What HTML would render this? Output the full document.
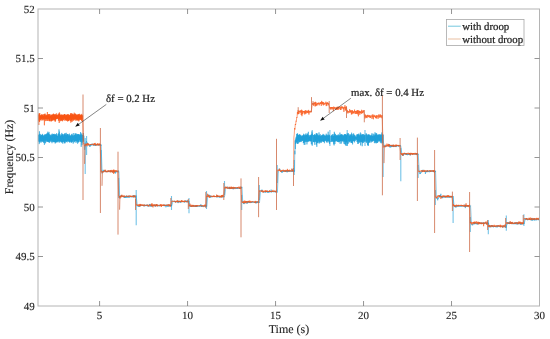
<!DOCTYPE html><html><head><meta charset="utf-8"><style>html,body{margin:0;padding:0;background:#fff;overflow:hidden}svg{display:block}text{font-family:"Liberation Serif","Times New Roman",serif;text-rendering:geometricPrecision}</style></head><body><svg width="550" height="339" viewBox="0 0 550 339"><rect width="550" height="339" fill="#fff"/><defs><clipPath id="c"><rect x="38.0" y="9.0" width="501.5" height="297.0"/></clipPath></defs><g clip-path="url(#c)" fill="none" stroke-linejoin="round"><polyline points="38.00,140.2 38.20,134.9 38.40,141.1 38.60,134.9 38.80,141.9 39.00,134.5 39.20,144.1 39.40,131.3 39.60,141.7 39.80,134.2 40.00,142.9 40.20,133.9 40.40,141.8 40.60,135.6 40.80,140.9 41.00,135.5 41.20,140.8 41.40,135.2 41.60,142.4 41.80,134.8 42.00,141.2 42.20,134.7 42.40,141.3 42.60,133.9 42.80,141.7 43.00,135.1 43.20,141.9 43.40,135.8 43.60,142.8 43.80,135.8 44.00,140.9 44.20,135.5 44.40,144.8 44.60,134.4 44.80,142.8 45.00,135.0 45.20,140.6 45.40,135.1 45.60,143.3 45.80,134.0 46.00,141.3 46.20,134.0 46.40,140.4 46.60,134.8 46.80,141.6 47.00,133.2 47.20,141.9 47.40,133.7 47.60,141.3 47.80,131.7 48.00,141.9 48.20,133.0 48.40,142.0 48.60,133.5 48.80,142.4 49.00,131.9 49.20,141.5 49.40,134.4 49.60,142.8 49.80,134.7 50.00,141.6 50.20,135.3 50.40,140.6 50.60,135.7 50.80,141.6 51.00,134.6 51.20,140.2 51.40,135.7 51.60,141.7 51.80,134.5 52.00,143.2 52.20,133.6 52.40,141.7 52.60,134.6 52.80,141.4 53.00,135.3 53.20,141.5 53.40,134.0 53.60,142.2 53.80,134.2 54.00,141.8 54.20,133.8 54.40,142.2 54.60,135.0 54.80,142.0 55.00,134.3 55.20,143.5 55.40,134.2 55.60,142.7 55.80,135.1 56.00,141.9 56.20,134.8 56.40,142.3 56.60,133.2 56.80,142.3 57.00,134.7 57.20,141.1 57.40,136.0 57.60,142.2 57.80,135.9 58.00,141.5 58.20,133.9 58.40,140.8 58.60,133.4 58.80,141.7 59.00,129.4 59.20,142.7 59.40,131.6 59.60,141.0 59.80,134.3 60.00,142.1 60.20,135.7 60.40,141.4 60.60,135.8 60.80,140.9 61.00,134.3 61.20,142.2 61.40,135.2 61.60,142.3 61.80,132.9 62.00,142.4 62.20,134.8 62.40,142.2 62.60,134.2 62.80,143.7 63.00,134.0 63.20,141.8 63.40,135.9 63.60,141.4 63.80,135.0 64.00,141.8 64.20,134.1 64.40,142.8 64.60,133.4 64.80,143.5 65.00,134.8 65.20,142.7 65.40,133.4 65.60,141.0 65.80,135.4 66.00,141.9 66.20,132.8 66.40,141.9 66.60,135.1 66.80,141.0 67.00,133.9 67.20,142.4 67.40,134.2 67.60,140.6 67.80,134.1 68.00,141.5 68.20,134.3 68.40,140.6 68.60,135.7 68.80,141.6 69.00,135.3 69.20,142.0 69.40,133.6 69.60,142.6 69.80,135.5 70.00,141.7 70.20,135.7 70.40,140.6 70.60,135.8 70.80,142.1 71.00,135.3 71.20,142.5 71.40,134.2 71.60,142.6 71.80,135.4 72.00,141.8 72.20,133.7 72.40,141.8 72.60,135.4 72.80,140.4 73.00,135.3 73.20,143.6 73.40,136.0 73.60,140.2 73.80,133.0 74.00,142.4 74.20,135.1 74.40,141.7 74.60,135.2 74.80,141.3 75.00,134.4 75.20,141.3 75.40,133.2 75.60,140.7 75.80,134.1 76.00,142.9 76.20,135.6 76.40,141.0 76.60,133.6 76.80,141.9 77.00,134.8 77.20,140.8 77.40,134.2 77.60,143.7 77.80,134.2 78.00,142.0 78.20,134.3 78.40,142.5 78.60,134.0 78.80,142.1 79.00,135.3 79.20,140.5 79.40,134.5 79.60,140.0 79.80,134.7 80.00,141.6 80.20,135.3 80.40,141.9 80.60,132.1 80.80,141.2 81.00,133.7 81.20,146.8 81.40,135.3 81.60,142.3 81.80,133.5 82.00,144.8 82.20,134.9 82.40,142.5 82.60,135.2 82.80,140.6 83.00,135.1 83.20,141.4 83.40,133.0 83.60,141.6 83.80,135.7 84.70,149.8 85.05,146.8 85.40,145.8 85.75,142.7 86.10,142.5 86.45,141.2 86.80,142.4 87.15,142.2 87.50,143.6 87.85,143.1 88.20,144.9 88.55,144.2 88.90,145.9 89.25,145.3 89.60,146.7 89.95,145.1 90.30,146.5 90.65,144.1 91.00,145.8 91.35,144.4 91.70,145.1 92.05,143.5 92.40,145.2 92.75,144.4 93.10,145.3 93.45,144.0 93.80,145.4 94.15,144.3 94.50,145.7 94.85,144.4 95.20,145.6 95.55,144.0 95.90,145.9 96.25,143.9 96.60,145.0 96.95,144.7 97.30,145.1 97.65,144.1 98.00,145.2 98.35,144.4 98.70,145.7 99.05,144.3 99.40,145.1 99.75,144.2 100.10,146.0 100.45,143.9 100.80,146.0 101.15,144.6 102.10,173.5 102.45,171.2 102.80,172.5 103.15,169.8 103.50,171.8 103.85,170.5 104.20,171.7 104.55,170.2 104.90,171.5 105.25,170.8 105.60,171.9 105.95,171.1 106.30,172.3 106.65,171.1 107.00,172.0 107.35,171.3 107.70,171.7 108.05,170.7 108.40,172.1 108.75,170.6 109.10,171.8 109.45,171.0 109.80,171.9 110.15,171.2 110.50,172.0 110.85,170.3 111.20,172.1 111.55,170.9 111.90,172.0 112.25,171.3 112.60,172.4 112.95,171.1 113.30,171.8 113.65,170.1 114.00,172.8 114.35,170.9 114.70,172.1 115.05,171.2 115.40,173.5 115.75,171.1 116.10,172.4 116.45,170.7 116.80,171.6 117.15,171.4 117.50,172.0 117.85,171.4 118.20,172.5 118.55,170.5 118.90,172.2 119.70,198.4 120.05,196.1 120.40,197.0 120.75,195.6 121.10,196.8 121.45,195.0 121.80,196.4 122.15,195.7 122.50,197.0 122.85,196.3 123.20,196.9 123.55,195.9 123.90,197.5 124.25,196.0 124.60,197.9 124.95,196.3 125.30,197.9 125.65,196.2 126.00,197.8 126.35,195.7 126.70,197.5 127.05,195.8 127.40,197.5 127.75,196.1 128.10,197.5 128.45,196.3 128.80,197.4 129.15,195.5 129.50,197.5 129.85,196.4 130.20,197.2 130.55,196.2 130.90,196.9 131.25,196.3 131.60,197.3 131.95,196.3 132.30,197.3 132.65,195.8 133.00,196.8 133.35,195.1 133.70,197.2 134.05,195.5 134.40,197.0 134.75,195.7 135.10,197.9 135.45,196.3 135.80,196.8 136.15,195.6 137.20,205.0 137.55,204.9 137.90,206.6 138.25,206.1 138.60,206.6 138.95,205.9 139.30,206.8 139.65,205.5 140.00,206.3 140.35,204.8 140.70,206.1 141.05,204.6 141.40,205.7 141.75,205.1 142.10,205.7 142.45,205.5 142.80,206.0 143.15,205.0 143.50,206.1 143.85,204.8 144.20,206.3 144.55,204.8 144.90,206.2 145.25,205.2 145.60,205.7 145.95,204.7 146.30,206.1 146.65,205.4 147.00,205.8 147.35,204.5 147.70,206.6 148.05,205.1 148.40,205.8 148.75,205.1 149.10,206.5 149.45,204.2 149.80,205.8 150.15,203.9 150.50,206.6 150.85,204.7 151.20,206.2 151.55,204.8 151.90,206.9 152.25,205.4 152.60,205.9 152.95,204.8 153.30,205.8 153.65,205.4 154.00,206.2 154.35,204.7 154.70,206.2 155.05,205.0 155.40,206.6 155.75,204.7 156.10,205.8 156.45,204.3 156.80,205.8 157.15,204.8 157.50,206.2 157.85,204.9 158.20,206.4 158.55,205.5 158.90,205.8 159.25,205.4 159.60,206.3 159.95,204.8 160.30,206.0 160.65,205.0 161.00,205.8 161.35,205.3 161.70,205.9 162.05,205.2 162.40,205.7 162.75,205.4 163.10,205.9 163.45,204.9 163.80,206.1 164.15,204.6 164.50,206.2 164.85,205.3 165.20,205.8 165.55,204.7 165.90,207.3 166.25,205.4 166.60,206.2 166.95,204.6 167.30,206.6 167.65,205.4 168.00,206.5 168.35,204.5 168.70,206.5 169.05,205.4 169.40,206.1 169.75,205.2 170.10,206.0 170.45,204.8 170.80,206.2 171.15,204.9 171.50,206.2 172.50,202.9 172.85,201.3 173.20,201.5 173.55,200.8 173.90,201.4 174.25,201.0 174.60,202.0 174.95,200.9 175.30,202.5 175.65,201.3 176.00,202.2 176.35,201.3 176.70,202.0 177.05,201.5 177.40,202.4 177.75,201.2 178.10,203.1 178.45,200.6 178.80,202.3 179.15,201.0 179.50,202.1 179.85,200.9 180.20,202.6 180.55,201.5 180.90,202.7 181.25,201.2 181.60,201.9 181.95,200.8 182.30,201.9 182.65,201.0 183.00,201.8 183.35,201.5 183.70,202.2 184.05,201.3 184.40,202.6 184.75,201.5 185.10,201.8 185.45,200.5 185.80,201.9 186.15,200.8 186.50,201.8 186.85,200.5 187.20,202.4 187.55,200.5 187.90,202.4 188.25,200.9 188.60,202.2 188.95,201.0 189.30,202.4 190.00,206.3 190.35,205.4 190.70,206.9 191.05,206.0 191.40,206.8 191.75,206.0 192.10,206.9 192.45,205.6 192.80,206.2 193.15,205.1 193.50,206.7 193.85,205.3 194.20,206.3 194.55,205.5 194.90,206.8 195.25,205.7 195.60,207.0 195.95,205.4 196.30,207.0 196.65,205.5 197.00,206.8 197.35,205.3 197.70,206.7 198.05,206.0 198.40,206.2 198.75,205.7 199.10,206.6 199.45,205.5 199.80,206.6 200.15,205.6 200.50,206.3 200.85,204.2 201.20,206.7 201.55,205.1 201.90,207.0 202.25,205.3 202.60,206.6 202.95,206.0 203.30,206.4 203.65,205.7 204.00,206.3 204.35,206.0 204.70,206.8 205.05,205.4 205.40,206.3 205.75,206.0 206.10,206.8 206.45,205.5 206.80,206.3 207.50,197.9 207.85,196.4 208.20,196.6 208.55,194.7 208.90,195.9 209.25,194.8 209.60,196.4 209.95,195.8 210.30,197.6 210.65,195.5 211.00,197.5 211.35,196.2 211.70,197.0 212.05,196.4 212.40,197.1 212.75,196.1 213.10,196.8 213.45,195.9 213.80,196.6 214.15,196.0 214.50,197.0 214.85,196.1 215.20,197.0 215.55,196.4 215.90,196.9 216.25,196.4 216.60,197.3 216.95,195.4 217.30,197.1 217.65,195.5 218.00,197.4 218.35,196.2 218.70,196.8 219.05,196.3 219.40,197.5 219.75,196.0 220.10,197.6 220.45,196.2 220.80,196.8 221.15,195.9 221.50,196.8 221.85,195.9 222.20,197.3 222.55,195.4 222.90,197.5 223.25,196.5 223.60,196.7 223.95,196.5 224.30,197.2 224.65,196.0 225.50,189.6 225.85,187.4 226.20,188.0 226.55,187.1 226.90,187.9 227.25,186.7 227.60,188.3 227.95,187.8 228.30,188.6 228.65,187.7 229.00,189.0 229.35,186.9 229.70,189.1 230.05,187.6 230.40,188.9 230.75,187.7 231.10,188.5 231.45,187.1 231.80,188.5 232.15,187.4 232.50,188.8 232.85,187.8 233.20,189.4 233.55,187.4 233.90,188.7 234.25,187.8 234.60,188.5 234.95,187.4 235.30,188.4 235.65,187.3 236.00,188.9 236.35,187.9 236.70,188.8 237.05,187.3 237.40,188.8 237.75,187.4 238.10,188.7 238.45,187.9 238.80,188.4 239.15,187.5 239.50,188.8 239.85,187.8 240.20,188.6 240.55,187.9 240.90,188.8 241.25,186.7 241.60,188.2 241.95,186.9 242.70,201.6 243.05,201.0 243.40,203.6 243.75,202.6 244.10,204.1 244.45,202.7 244.80,203.3 245.15,202.4 245.50,203.0 245.85,201.5 246.20,202.0 246.55,201.4 246.90,203.8 247.25,201.1 247.60,203.3 247.95,201.9 248.30,202.7 248.65,201.2 249.00,202.7 249.35,202.0 249.70,203.0 250.05,202.0 250.40,202.6 250.75,201.9 251.10,202.7 251.45,201.8 251.80,203.0 252.15,201.9 252.50,202.3 252.85,201.3 253.20,202.4 253.55,201.8 253.90,202.6 254.25,201.8 254.60,202.6 254.95,201.8 255.30,203.0 255.65,202.0 256.00,203.2 256.35,201.9 256.70,203.2 257.05,201.3 257.40,202.9 257.75,201.4 258.10,202.4 258.45,201.2 258.80,202.9 259.15,201.9 259.50,202.5 260.30,193.1 260.65,191.5 261.00,191.6 261.35,189.9 261.70,191.2 262.05,189.7 262.40,191.2 262.75,191.2 263.10,192.6 263.45,191.5 263.80,192.1 264.15,191.7 264.50,192.2 264.85,191.3 265.20,192.9 265.55,191.1 265.90,191.9 266.25,191.0 266.60,191.9 266.95,191.1 267.30,192.6 267.65,190.6 268.00,192.8 268.35,191.4 268.70,192.5 269.05,191.2 269.40,192.3 269.75,191.0 270.10,192.1 270.45,191.3 270.80,192.2 271.15,189.6 271.50,192.3 271.85,191.2 272.20,192.1 272.55,191.4 272.90,191.8 273.25,191.1 273.60,192.2 273.95,191.0 274.30,191.9 274.65,191.4 275.00,192.3 275.35,191.2 275.70,192.3 276.05,190.8 276.40,191.7 276.75,190.6 277.10,192.6 277.45,191.3 278.20,173.9 278.55,171.0 278.90,170.6 279.25,168.5 279.60,169.6 279.95,169.2 280.30,170.2 280.65,170.4 281.00,171.9 281.35,170.8 281.70,172.7 282.05,171.1 282.40,172.5 282.75,170.7 283.10,171.5 283.45,170.5 283.80,171.7 284.15,170.4 284.50,171.4 284.85,170.7 285.20,171.9 285.55,170.6 285.90,171.6 286.25,170.5 286.60,172.1 286.95,170.1 287.30,172.3 287.65,170.8 288.00,171.8 288.35,170.6 288.70,171.6 289.05,170.3 289.40,172.0 289.75,171.0 290.10,171.3 290.45,170.4 290.80,171.5 291.15,171.0 291.50,171.7 291.85,170.6 292.20,171.5 292.55,168.8 292.90,172.0 293.25,170.5 293.60,171.9 293.95,170.2 294.30,171.4 294.55,171.7 294.75,150.7 294.95,154.3 295.15,140.4 295.35,149.1 295.55,139.5 295.75,144.0 295.95,137.6 296.15,142.6 296.35,136.6 296.55,142.5 296.75,134.0 296.95,141.7 297.15,133.7 297.35,144.0 297.55,133.4 297.75,143.5 297.95,135.4 298.15,143.6 298.35,134.8 298.55,141.2 298.75,135.1 298.95,142.7 299.15,134.7 299.35,141.9 299.55,134.3 299.75,141.8 299.95,134.6 300.15,141.8 300.35,135.6 300.55,140.8 300.75,134.9 300.95,142.1 301.15,136.3 301.35,141.5 301.55,136.5 301.75,140.5 301.95,135.5 302.15,140.4 302.35,136.0 302.55,141.0 302.75,135.6 302.95,140.5 303.15,135.0 303.35,143.1 303.55,133.8 303.75,142.9 303.95,135.1 304.15,144.8 304.35,135.9 304.55,141.9 304.75,134.6 304.95,144.8 305.15,134.5 305.35,142.1 305.55,135.6 305.75,141.4 305.95,133.4 306.15,140.4 306.35,135.0 306.55,141.9 306.75,135.2 306.95,144.4 307.15,133.8 307.35,141.2 307.55,133.6 307.75,142.1 307.95,135.6 308.15,141.8 308.35,131.8 308.55,141.1 308.75,135.0 308.95,140.9 309.15,136.6 309.35,140.6 309.55,136.4 309.75,141.4 309.95,135.0 310.15,141.0 310.35,134.9 310.55,141.2 310.75,136.0 310.95,141.4 311.15,134.8 311.35,144.2 311.55,134.3 311.75,140.9 311.95,131.5 312.15,144.7 312.35,133.5 313.20,141.8 313.40,135.1 313.60,142.1 313.80,135.1 314.00,142.1 314.20,134.7 314.40,142.2 314.60,134.2 314.80,144.8 315.00,135.8 315.20,140.8 315.40,134.7 315.60,141.8 315.80,135.3 316.00,141.7 316.20,133.3 316.40,144.6 316.60,133.6 316.80,146.8 317.00,133.2 317.20,142.3 317.40,134.3 317.60,143.1 317.80,135.2 318.00,143.1 318.20,135.6 318.40,140.9 318.60,135.6 318.80,141.8 319.00,132.4 319.20,143.5 319.40,135.4 319.60,141.9 319.80,135.4 320.00,143.1 320.20,134.1 320.40,141.9 320.60,136.2 320.80,140.7 321.00,135.9 321.20,143.0 321.40,135.2 321.60,141.5 321.80,136.1 322.00,141.7 322.20,135.0 322.40,141.2 322.60,135.1 322.80,141.2 323.00,133.9 323.20,141.4 323.40,135.0 323.60,142.0 323.80,134.3 324.00,141.4 324.20,135.6 324.40,143.2 324.60,135.7 324.80,140.6 325.00,135.3 325.20,141.2 325.40,135.8 325.60,140.4 325.80,135.9 326.00,140.6 326.20,133.7 326.40,141.6 326.60,135.3 326.80,142.4 327.00,134.6 327.20,142.5 327.40,135.4 327.60,141.0 327.80,135.7 328.00,141.0 328.20,131.7 328.40,141.7 328.60,135.6 328.80,141.0 329.00,134.7 329.20,142.9 329.40,134.9 329.60,144.1 329.80,135.8 330.00,142.1 330.90,140.9 331.10,135.8 331.30,140.6 331.50,135.6 331.70,142.0 331.90,135.0 332.10,141.7 332.30,134.4 332.50,141.3 332.70,136.1 332.90,140.4 333.10,134.0 333.30,142.1 333.50,135.7 333.70,144.2 333.90,135.8 334.10,145.4 334.30,131.8 334.50,141.7 334.70,133.3 334.90,144.0 335.10,135.4 335.30,141.6 335.50,134.0 335.70,140.6 335.90,135.8 336.10,140.9 336.30,135.3 336.50,140.8 336.70,135.6 336.90,141.6 337.10,134.9 337.30,140.5 337.50,135.7 337.70,142.0 337.90,135.7 338.10,141.9 338.30,134.3 338.50,142.2 338.70,135.2 338.90,140.7 339.10,135.9 339.30,142.1 339.50,135.4 339.70,141.5 339.90,132.6 340.10,143.8 340.30,135.0 340.50,141.1 340.70,134.6 340.90,140.8 341.10,134.3 341.30,143.6 341.50,134.5 341.70,141.1 341.90,134.6 342.10,141.6 342.30,134.6 342.50,140.7 342.70,135.0 342.90,140.9 343.10,136.2 343.30,142.3 343.50,135.7 343.70,140.6 343.90,134.9 344.10,144.0 344.30,134.4 344.50,141.6 344.70,134.3 344.90,144.2 345.10,134.0 345.30,144.5 345.50,134.5 345.70,145.6 345.90,134.6 346.10,141.9 346.30,135.3 346.50,142.5 346.70,135.1 346.90,145.9 347.10,133.5 347.30,144.3 347.50,133.6 348.20,143.8 348.40,133.1 348.60,141.2 348.80,134.3 349.00,142.6 349.20,135.9 349.40,141.8 349.60,135.5 349.80,141.4 350.00,134.2 350.20,140.8 350.40,135.0 350.60,141.4 350.80,135.7 351.00,142.9 351.20,134.0 351.40,142.4 351.60,132.7 351.80,143.0 352.00,135.1 352.20,143.1 352.40,135.8 352.60,144.4 352.80,133.9 353.00,140.8 353.20,136.1 353.40,141.1 353.60,133.4 353.80,141.4 354.00,134.5 354.20,140.7 354.40,135.0 354.60,142.4 354.80,135.8 355.00,141.0 355.20,135.5 355.40,140.4 355.60,136.7 355.80,139.0 356.00,137.0 356.20,139.3 356.40,136.6 356.60,140.0 356.80,134.7 357.00,141.8 357.20,134.2 357.40,141.7 357.60,134.7 357.80,143.8 358.00,134.4 358.20,143.9 358.40,134.5 358.60,141.5 358.80,133.6 359.00,142.9 359.20,135.2 359.40,142.4 359.60,135.7 359.80,140.8 360.00,134.4 360.20,141.8 360.40,132.5 360.60,145.4 360.80,135.1 361.00,142.0 361.20,133.7 361.40,142.3 361.60,135.2 361.80,141.8 362.00,135.2 362.20,146.2 362.40,134.5 362.60,143.1 362.80,134.2 363.00,142.0 363.20,134.1 363.40,142.9 363.60,134.7 363.80,141.2 364.00,136.0 364.20,140.2 364.40,134.9 364.60,141.7 364.80,135.2 365.00,141.7 365.20,134.6 366.00,141.6 366.20,133.2 366.40,143.1 366.60,134.2 366.80,141.8 367.00,134.8 367.20,140.6 367.40,135.8 367.60,145.4 367.80,134.7 368.00,144.9 368.20,134.5 368.40,145.9 368.60,134.7 368.80,143.0 369.00,134.4 369.20,142.1 369.40,135.2 369.60,142.4 369.80,134.8 370.00,142.4 370.20,136.0 370.40,140.9 370.60,135.6 370.80,140.1 371.00,135.1 371.20,142.5 371.40,135.6 371.60,141.2 371.80,133.4 372.00,141.6 372.20,135.8 372.40,141.3 372.60,135.8 372.80,141.4 373.00,133.6 373.20,140.4 373.40,136.2 373.60,140.9 373.80,134.5 374.00,140.4 374.20,134.6 374.40,143.1 374.60,135.8 374.80,141.2 375.00,132.3 375.20,143.2 375.40,135.1 375.60,142.4 375.80,133.3 376.00,141.1 376.20,133.8 376.40,143.3 376.60,133.2 376.80,142.4 377.00,135.4 377.20,142.7 377.40,135.2 377.60,142.9 377.80,134.5 378.00,140.6 378.20,134.6 378.40,141.7 378.60,135.1 378.80,140.4 379.00,134.4 379.20,140.5 379.40,135.3 379.60,141.2 379.80,134.2 380.00,141.5 380.20,134.8 380.40,142.7 380.60,134.7 380.80,140.6 381.00,135.4 381.20,143.3 381.40,134.7 381.60,141.6 381.80,132.5 382.00,143.2 382.20,134.5 382.40,143.0 382.60,134.3 382.80,142.6 383.00,134.5 383.20,141.1 384.10,145.6 384.45,145.0 384.80,146.8 385.15,146.3 385.50,147.1 385.85,146.3 386.20,146.8 386.55,145.5 386.90,146.3 387.25,145.5 387.60,146.0 387.95,145.4 388.30,146.0 388.65,145.4 389.00,146.3 389.35,144.0 389.70,147.3 390.05,145.5 390.40,147.4 390.75,145.6 391.10,147.2 391.45,145.1 391.80,147.0 392.15,145.2 392.50,146.7 392.85,144.8 393.20,146.8 393.55,145.0 393.90,147.1 394.25,145.8 394.60,146.5 394.95,145.7 395.30,146.8 395.65,145.8 396.00,147.1 396.35,145.1 396.70,146.4 397.05,145.3 397.40,146.1 397.75,145.2 398.10,146.5 398.45,145.0 398.80,146.4 399.15,145.6 399.50,146.1 399.85,145.2 400.20,146.5 400.55,145.3 400.90,146.9 401.80,153.7 402.15,153.4 402.50,155.4 402.85,154.0 403.20,155.9 403.55,154.1 403.90,154.8 404.25,153.5 404.60,154.2 404.95,153.0 405.30,154.4 405.65,153.1 406.00,154.9 406.35,153.1 406.70,154.6 407.05,153.9 407.40,155.2 407.75,153.9 408.10,155.0 408.45,154.0 408.80,154.8 409.15,153.3 409.50,154.4 409.85,153.0 410.20,155.5 410.55,153.6 410.90,154.2 411.25,153.3 411.60,154.3 411.95,153.7 412.30,154.5 412.65,153.7 413.00,154.4 413.35,153.6 413.70,154.3 414.05,153.2 414.40,154.3 414.75,153.9 415.10,154.3 415.45,153.5 415.80,154.6 416.15,153.9 416.50,155.0 416.85,153.2 417.20,155.1 417.55,153.1 417.90,154.6 418.25,153.9 419.10,170.3 419.45,170.5 419.80,174.1 420.15,172.8 420.50,173.8 420.85,171.8 421.20,172.6 421.55,171.1 421.90,171.7 422.25,170.2 422.60,171.8 422.95,169.8 423.30,171.0 423.65,170.7 424.00,172.0 424.35,171.0 424.70,171.6 425.05,170.6 425.40,173.9 425.75,171.1 426.10,172.0 426.45,171.1 426.80,172.3 427.15,170.1 427.50,171.9 427.85,170.5 428.20,172.1 428.55,170.9 428.90,171.5 429.25,170.8 429.60,172.2 429.95,170.7 430.30,171.6 430.65,170.8 431.00,171.7 431.35,170.4 431.70,171.8 432.05,171.2 432.40,171.4 432.75,170.5 433.10,171.8 433.45,170.6 433.80,172.2 434.15,170.6 434.50,172.6 434.85,170.6 435.20,171.8 435.55,170.9 436.30,194.8 436.65,195.4 437.00,198.8 437.35,198.1 437.70,200.3 438.05,198.2 438.40,198.7 438.75,196.9 439.10,197.3 439.45,195.1 439.80,197.0 440.15,195.2 440.50,196.5 440.85,193.8 441.20,197.9 441.55,196.0 441.90,197.6 442.25,196.6 442.60,198.2 442.95,196.0 443.30,197.5 443.65,196.6 444.00,197.2 444.35,195.8 444.70,197.5 445.05,195.8 445.40,197.5 445.75,196.2 446.10,197.3 446.45,195.8 446.80,197.0 447.15,196.2 447.50,197.7 447.85,196.5 448.20,197.5 448.55,196.7 448.90,197.2 449.25,195.9 449.60,197.7 449.95,196.1 450.30,197.5 450.65,196.2 451.00,197.6 451.35,196.0 451.70,197.0 452.05,196.0 452.40,197.3 452.75,196.1 453.10,197.1 454.10,205.7 454.45,205.4 454.80,207.1 455.15,205.9 455.50,207.3 455.85,206.0 456.20,207.4 456.55,205.5 456.90,206.6 457.25,205.3 457.60,206.5 457.95,205.1 458.30,206.2 458.65,205.1 459.00,206.9 459.35,205.7 459.70,206.3 460.05,205.8 460.40,206.7 460.75,205.6 461.10,206.3 461.45,205.5 461.80,206.7 462.15,205.3 462.50,206.2 462.85,205.5 463.20,206.3 463.55,205.8 463.90,206.4 464.25,205.9 464.60,206.9 464.95,204.5 465.30,208.1 465.65,204.9 466.00,206.8 466.35,205.8 466.70,206.6 467.05,205.5 467.40,206.6 467.75,205.3 468.10,206.5 468.45,205.4 468.80,206.2 469.15,205.7 469.50,206.7 469.85,205.3 470.20,206.2 470.55,205.8 471.30,222.0 471.65,222.0 472.00,225.2 472.35,224.3 472.70,225.3 473.05,224.4 473.40,224.3 473.75,222.6 474.10,223.6 474.45,222.3 474.80,224.4 475.15,222.5 475.50,223.9 475.85,222.6 476.20,223.6 476.55,223.2 476.90,224.5 477.25,222.7 477.60,224.5 477.95,223.1 478.30,223.9 478.65,222.5 479.00,223.7 479.35,222.2 479.70,223.8 480.05,222.5 480.40,223.8 480.75,223.2 481.10,224.1 481.45,222.6 481.80,224.1 482.15,222.5 482.50,223.5 482.85,223.2 483.20,224.0 483.55,222.3 483.90,224.2 484.25,222.8 484.60,223.7 484.95,222.8 485.30,223.4 485.65,222.9 486.00,223.6 486.35,222.7 486.70,224.3 487.05,222.3 487.40,223.5 487.75,222.4 488.10,224.5 488.45,222.9 489.30,226.4 489.65,225.4 490.00,227.4 490.35,226.0 490.70,227.1 491.05,225.1 491.40,226.6 491.75,225.5 492.10,226.9 492.45,225.1 492.80,227.1 493.15,226.0 493.50,227.3 493.85,225.9 494.20,227.0 494.55,226.1 494.90,227.0 495.25,226.0 495.60,227.2 495.95,225.9 496.30,226.7 496.65,225.8 497.00,227.6 497.35,225.4 497.70,226.9 498.05,225.4 498.40,226.4 498.75,225.8 499.10,227.0 499.45,226.1 499.80,226.9 500.15,226.0 500.50,226.7 500.85,226.1 501.20,226.7 501.55,226.2 501.90,227.0 502.25,226.0 502.60,227.6 502.95,225.4 503.30,226.6 503.65,225.9 504.00,226.6 504.35,226.2 504.70,227.4 505.05,226.0 505.40,227.0 505.75,225.5 506.10,227.8 506.45,225.9 507.30,224.1 507.65,222.3 508.00,223.8 508.35,222.2 508.70,223.9 509.05,222.3 509.40,224.1 509.75,222.1 510.10,223.8 510.45,222.2 510.80,223.7 511.15,222.5 511.50,223.9 511.85,222.3 512.20,224.2 512.55,222.4 512.90,223.7 513.25,223.1 513.60,224.2 513.95,223.1 514.30,224.2 514.65,222.3 515.00,224.0 515.35,222.7 515.70,224.2 516.05,223.0 516.40,224.4 516.75,222.2 517.10,223.8 517.45,222.3 517.80,224.6 518.15,223.1 518.50,224.0 518.85,222.6 519.20,223.6 519.55,222.3 519.90,224.2 520.25,223.0 520.60,224.6 520.95,223.0 521.30,224.7 521.65,222.7 522.00,223.6 522.35,223.1 522.70,224.1 523.05,223.2 523.40,224.4 523.75,222.8 524.10,224.0 524.90,220.7 525.25,218.9 525.60,219.9 525.95,218.3 526.30,219.2 526.65,218.1 527.00,219.6 527.35,218.6 527.70,220.3 528.05,219.1 528.40,219.8 528.75,219.2 529.10,219.7 529.45,218.2 529.80,219.7 530.15,219.2 530.50,219.9 530.85,218.9 531.20,220.5 531.55,218.1 531.90,220.3 532.25,218.1 532.60,220.6 532.95,219.0 533.30,220.1 533.65,218.5 534.00,220.2 534.35,218.5 534.70,220.5 535.05,218.7 535.40,219.5 535.75,218.8 536.10,220.5 536.45,218.6 536.80,219.5 537.15,218.5 537.50,219.7 537.85,219.1 538.20,220.3 538.55,218.6 538.90,219.9 539.25,218.6" stroke="#1A9DD9" stroke-width="0.55"/><path d="M85.20 138V174M101.10 150V172M118.70 178V198M136.20 190V225.2M171.50 196V210M189.00 198V213.2M206.50 191V209M224.50 181V195M241.70 195V210M259.30 185V200M277.20 165V183M294.20 160V175M312.20 130V146M329.90 130V146M347.20 130V146M365.00 130V146M383.10 135V177M400.80 148V181.2M418.10 165V178M435.30 190V205M453.10 196V223M470.30 217V232M488.30 220V234.2M506.30 215.5V230.7M523.90 214.3V226M86.6 136V155" stroke="#1A9DD9" stroke-width="1.1" stroke-opacity="0.62"/><polyline points="38.00,119.5 38.20,115.1 38.40,120.7 38.60,114.4 38.80,125.0 39.00,113.1 39.20,121.6 39.40,113.8 39.60,121.8 39.80,113.2 40.00,118.9 40.20,115.4 40.40,119.9 40.60,115.5 40.80,120.5 41.00,115.2 41.20,119.4 41.40,115.1 41.60,118.9 41.80,114.1 42.00,120.5 42.20,114.5 42.40,118.6 42.60,115.0 42.80,120.2 43.00,115.6 43.20,119.5 43.40,115.8 43.60,118.9 43.80,114.1 44.00,120.4 44.20,114.2 44.40,125.3 44.60,114.6 44.80,119.0 45.00,113.5 45.20,118.9 45.40,115.6 45.60,121.1 45.80,114.4 46.00,119.2 46.20,115.7 46.40,119.4 46.60,115.2 46.80,121.0 47.00,114.8 47.20,118.9 47.40,112.0 47.60,120.9 47.80,115.3 48.00,119.2 48.20,114.4 48.40,119.1 48.60,114.1 48.80,120.7 49.00,115.6 49.20,121.1 49.40,114.0 49.60,121.2 49.80,114.4 50.00,120.4 50.20,115.6 50.40,118.5 50.60,115.7 50.80,121.2 51.00,114.4 51.20,121.4 51.40,114.9 51.60,121.1 51.80,115.5 52.00,119.3 52.20,115.0 52.40,120.6 52.60,114.3 52.80,120.4 53.00,114.7 53.20,120.4 53.40,113.6 53.60,119.9 53.80,114.0 54.00,118.7 54.20,115.0 54.40,120.2 54.60,114.4 54.80,120.6 55.00,114.7 55.20,121.9 55.40,113.9 55.60,120.9 55.80,115.4 56.00,119.1 56.20,115.1 56.40,119.2 56.60,113.4 56.80,118.6 57.00,115.1 57.20,118.6 57.40,114.6 57.60,118.6 57.80,115.6 58.00,118.9 58.20,115.0 58.40,120.8 58.60,113.5 58.80,119.8 59.00,114.1 59.20,123.0 59.40,112.4 59.60,119.2 59.80,113.7 60.00,121.4 60.20,115.2 60.40,120.8 60.60,115.2 60.80,119.5 61.00,114.5 61.20,120.4 61.40,114.6 61.60,120.3 61.80,115.3 62.00,121.0 62.20,115.2 62.40,121.3 62.60,114.6 62.80,119.5 63.00,115.4 63.20,120.0 63.40,115.0 63.60,120.3 63.80,114.8 64.00,118.6 64.20,114.0 64.40,118.7 64.60,114.1 64.80,120.7 65.00,114.1 65.20,120.1 65.40,115.6 65.60,119.6 65.80,115.0 66.00,120.4 66.20,114.9 66.40,120.8 66.60,115.2 66.80,119.9 67.00,114.4 67.20,120.1 67.40,114.6 67.60,121.5 67.80,114.3 68.00,120.9 68.20,115.1 68.40,121.0 68.60,114.2 68.80,121.1 69.00,115.5 69.20,119.8 69.40,115.1 69.60,120.2 69.80,115.3 70.00,118.9 70.20,114.5 70.40,121.0 70.60,113.2 70.80,122.7 71.00,114.3 71.20,120.2 71.40,113.2 71.60,121.7 71.80,114.9 72.00,119.7 72.20,113.5 72.40,121.5 72.60,114.3 72.80,119.4 73.00,114.2 73.20,119.3 73.40,114.9 73.60,120.7 73.80,114.5 74.00,120.3 74.20,112.7 74.40,119.7 74.60,113.8 74.80,119.0 75.00,115.4 75.20,119.3 75.40,113.6 75.60,120.6 75.80,114.0 76.00,118.7 76.20,114.4 76.40,119.8 76.60,115.0 76.80,120.6 77.00,115.1 77.20,120.3 77.40,115.0 77.60,120.3 77.80,114.1 78.00,119.6 78.20,114.8 78.40,120.4 78.60,114.4 78.80,121.4 79.00,114.2 79.20,120.4 79.40,113.8 79.60,119.2 79.80,115.6 80.00,119.7 80.20,115.6 80.40,120.0 80.60,114.8 80.80,118.8 81.00,114.5 81.20,119.9 81.40,115.0 81.60,121.1 81.80,113.9 82.00,119.3 82.20,115.4 82.40,121.4 82.60,115.4 82.80,121.0 83.70,144.1 84.05,143.5 84.40,145.8 84.75,145.2 85.10,146.3 85.45,144.3 85.80,145.3 86.15,143.3 86.50,145.3 86.85,144.0 87.20,146.3 87.55,143.1 87.90,145.1 88.25,143.4 88.60,145.1 88.95,143.9 89.30,145.4 89.65,144.5 90.00,145.2 90.35,144.3 90.70,145.0 91.05,144.1 91.40,144.9 91.75,144.1 92.10,144.8 92.45,143.8 92.80,144.6 93.15,144.2 93.50,145.5 93.85,143.4 94.20,144.9 94.55,143.2 94.90,145.0 95.25,142.9 95.60,145.7 95.95,144.3 96.30,144.6 96.65,144.0 97.00,145.8 97.35,143.4 97.70,145.1 98.05,143.3 98.40,145.4 98.75,144.0 99.10,144.8 99.45,143.4 99.80,145.4 100.15,144.0 101.10,171.4 101.45,170.6 101.80,172.7 102.15,171.5 102.50,172.4 102.85,171.8 103.20,172.4 103.55,171.0 103.90,172.2 104.25,170.7 104.60,171.3 104.95,169.7 105.30,171.7 105.65,169.9 106.00,172.3 106.35,171.0 106.70,171.7 107.05,170.7 107.40,172.3 107.75,170.6 108.10,171.8 108.45,170.6 108.80,171.7 109.15,170.1 109.50,171.4 109.85,170.7 110.20,172.5 110.55,170.2 110.90,172.1 111.25,169.9 111.60,171.6 111.95,170.4 112.30,172.8 112.65,170.2 113.00,172.2 113.35,169.7 113.70,174.0 114.05,169.7 114.40,172.6 114.75,170.2 115.10,171.7 115.45,170.3 115.80,171.7 116.15,170.3 116.50,171.4 116.85,170.6 117.20,172.1 117.55,170.6 117.90,171.9 118.70,195.8 119.05,195.6 119.40,197.3 119.75,196.1 120.10,198.4 120.45,195.9 120.80,197.4 121.15,195.3 121.50,197.2 121.85,194.7 122.20,196.4 122.55,195.6 122.90,197.1 123.25,195.8 123.60,197.1 123.95,195.4 124.30,197.2 124.65,195.7 125.00,196.7 125.35,196.1 125.70,196.4 126.05,196.1 126.40,196.6 126.75,195.6 127.10,196.8 127.45,196.0 127.80,196.7 128.15,195.8 128.50,197.2 128.85,195.6 129.20,196.4 129.55,195.8 129.90,196.6 130.25,195.5 130.60,197.1 130.95,195.8 131.30,196.9 131.65,195.8 132.00,197.0 132.35,196.0 132.70,196.6 133.05,195.4 133.40,197.5 133.75,195.9 134.10,197.1 134.45,195.5 134.80,196.9 135.15,195.3 136.20,205.2 136.55,204.5 136.90,205.7 137.25,205.2 137.60,205.8 137.95,204.4 138.30,206.0 138.65,204.6 139.00,206.3 139.35,204.3 139.70,206.3 140.05,203.9 140.40,206.2 140.75,204.1 141.10,205.6 141.45,204.6 141.80,205.6 142.15,204.6 142.50,205.8 142.85,204.3 143.20,205.9 143.55,204.9 143.90,206.3 144.25,204.4 144.60,205.4 144.95,204.9 145.30,205.9 145.65,205.1 146.00,205.6 146.35,204.8 146.70,205.8 147.05,204.6 147.40,205.7 147.75,204.9 148.10,205.8 148.45,204.9 148.80,206.8 149.15,204.6 149.50,205.4 149.85,205.1 150.20,205.5 150.55,204.9 150.90,205.8 151.25,204.0 151.60,206.2 151.95,203.1 152.30,206.3 152.65,204.4 153.00,207.4 153.35,204.4 153.70,205.9 154.05,204.8 154.40,205.6 154.75,204.2 155.10,206.2 155.45,204.8 155.80,206.4 156.15,204.3 156.50,206.0 156.85,204.0 157.20,206.5 157.55,204.7 157.90,205.9 158.25,205.0 158.60,205.5 158.95,204.8 159.30,205.6 159.65,205.1 160.00,206.2 160.35,204.2 160.70,206.1 161.05,204.2 161.40,207.0 161.75,204.5 162.10,206.0 162.45,204.8 162.80,205.9 163.15,204.4 163.50,205.6 163.85,204.7 164.20,206.0 164.55,204.7 164.90,206.0 165.25,204.9 165.60,205.4 165.95,205.0 166.30,205.8 166.65,204.7 167.00,205.8 167.35,204.6 167.70,205.6 168.05,204.6 168.40,205.4 168.75,204.3 169.10,206.3 169.45,204.3 169.80,206.4 170.15,204.9 170.50,206.6 171.50,201.8 171.85,201.2 172.20,201.9 172.55,200.6 172.90,201.6 173.25,201.1 173.60,201.7 173.95,201.1 174.30,201.4 174.65,200.7 175.00,202.0 175.35,201.2 175.70,202.6 176.05,201.2 176.40,201.9 176.75,200.6 177.10,202.2 177.45,200.2 177.80,202.0 178.15,201.0 178.50,202.3 178.85,200.9 179.20,201.9 179.55,200.8 179.90,202.2 180.25,201.1 180.60,201.8 180.95,200.7 181.30,202.2 181.65,200.0 182.00,201.8 182.35,200.7 182.70,202.2 183.05,200.9 183.40,202.0 183.75,200.9 184.10,202.0 184.45,200.6 184.80,202.1 185.15,200.6 185.50,201.7 185.85,201.1 186.20,202.4 186.55,201.0 186.90,201.4 187.25,200.9 187.60,201.6 187.95,200.6 188.30,201.7 189.00,206.4 189.35,205.4 189.70,206.2 190.05,203.7 190.40,206.2 190.75,205.7 191.10,206.9 191.45,204.8 191.80,206.7 192.15,205.2 192.50,206.6 192.85,204.8 193.20,206.5 193.55,205.3 193.90,206.9 194.25,205.5 194.60,206.6 194.95,205.5 195.30,206.3 195.65,205.1 196.00,206.9 196.35,205.0 196.70,206.3 197.05,205.1 197.40,206.4 197.75,205.2 198.10,206.1 198.45,205.4 198.80,206.3 199.15,205.6 199.50,205.9 199.85,205.2 200.20,206.1 200.55,205.0 200.90,205.9 201.25,205.5 201.60,206.4 201.95,205.6 202.30,206.3 202.65,205.4 203.00,206.2 203.35,205.4 203.70,207.1 204.05,205.3 204.40,206.1 204.75,204.6 205.10,206.1 205.45,204.8 205.80,206.7 206.50,197.3 206.85,195.8 207.20,197.2 207.55,193.8 207.90,197.0 208.25,194.9 208.60,196.6 208.95,196.0 209.30,198.0 209.65,195.5 210.00,197.2 210.35,196.1 210.70,196.5 211.05,195.7 211.40,196.6 211.75,195.9 212.10,196.8 212.45,195.9 212.80,197.2 213.15,195.9 213.50,196.9 213.85,195.3 214.20,197.0 214.55,195.8 214.90,197.2 215.25,196.0 215.60,196.5 215.95,196.1 216.30,197.1 216.65,194.6 217.00,197.1 217.35,195.5 217.70,197.0 218.05,195.2 218.40,196.9 218.75,196.0 219.10,196.7 219.45,195.7 219.80,197.1 220.15,195.8 220.50,196.9 220.85,195.8 221.20,198.0 221.55,195.0 221.90,196.9 222.25,195.0 222.60,196.7 222.95,194.8 223.30,196.9 223.65,195.3 224.50,189.2 224.85,187.2 225.20,188.4 225.55,186.6 225.90,188.3 226.25,187.1 226.60,188.2 226.95,186.7 227.30,188.9 227.65,187.7 228.00,188.1 228.35,187.7 228.70,188.5 229.05,186.8 229.40,188.5 229.75,187.3 230.10,189.0 230.45,187.3 230.80,188.6 231.15,186.5 231.50,189.0 231.85,187.2 232.20,188.3 232.55,187.1 232.90,188.9 233.25,186.8 233.60,188.6 233.95,187.3 234.30,188.2 234.65,187.1 235.00,189.1 235.35,187.4 235.70,188.2 236.05,187.7 236.40,188.0 236.75,187.4 237.10,188.3 237.45,187.0 237.80,188.3 238.15,187.5 238.50,188.1 238.85,186.6 239.20,188.7 239.55,187.3 239.90,188.9 240.25,186.5 240.60,188.6 240.95,187.2 241.70,201.7 242.05,201.5 242.40,203.0 242.75,201.7 243.10,202.8 243.45,201.5 243.80,203.5 244.15,200.8 244.50,202.9 244.85,200.6 245.20,202.9 245.55,201.1 245.90,203.3 246.25,201.4 246.60,202.5 246.95,201.0 247.30,202.5 247.65,201.5 248.00,202.7 248.35,200.8 248.70,202.1 249.05,201.1 249.40,202.3 249.75,200.5 250.10,203.1 250.45,201.1 250.80,202.1 251.15,201.6 251.50,202.4 251.85,201.2 252.20,202.1 252.55,201.4 252.90,202.2 253.25,201.7 253.60,202.1 253.95,201.6 254.30,202.9 254.65,201.6 255.00,202.3 255.35,200.9 255.70,203.3 256.05,201.1 256.40,202.1 256.75,201.7 257.10,202.1 257.45,201.7 257.80,202.4 258.15,201.8 258.50,202.7 259.30,192.9 259.65,190.4 260.00,191.5 260.35,190.7 260.70,191.1 261.05,190.3 261.40,192.0 261.75,191.0 262.10,191.6 262.45,190.3 262.80,192.3 263.15,190.8 263.50,192.4 263.85,190.8 264.20,191.7 264.55,190.8 264.90,191.7 265.25,190.3 265.60,191.9 265.95,190.3 266.30,192.2 266.65,190.6 267.00,192.0 267.35,190.8 267.70,191.7 268.05,191.1 268.40,192.0 268.75,191.2 269.10,191.9 269.45,190.2 269.80,191.9 270.15,190.8 270.50,192.0 270.85,191.0 271.20,192.1 271.55,190.9 271.90,191.4 272.25,190.7 272.60,192.0 272.95,189.9 273.30,191.5 273.65,190.9 274.00,191.8 274.35,190.6 274.70,191.7 275.05,190.7 275.40,191.8 275.75,191.0 276.10,192.5 276.45,190.5 277.20,172.6 277.55,170.4 277.90,170.7 278.25,169.4 278.60,170.8 278.95,170.1 279.30,171.0 279.65,168.8 280.00,171.2 280.35,170.4 280.70,171.9 281.05,170.6 281.40,171.8 281.75,170.0 282.10,171.0 282.45,170.3 282.80,171.1 283.15,169.6 283.50,171.5 283.85,170.5 284.20,171.3 284.55,170.4 284.90,171.9 285.25,169.9 285.60,171.7 285.95,170.5 286.30,171.3 286.65,170.3 287.00,171.2 287.35,168.9 287.70,171.4 288.05,169.9 288.40,171.6 288.75,170.2 289.10,171.0 289.45,169.7 289.80,171.5 290.15,170.5 290.50,171.4 290.85,170.6 291.20,171.2 291.55,168.7 291.90,171.3 292.25,170.4 292.60,171.2 292.95,169.7 293.30,171.4 293.55,164.8 293.90,137.2 294.25,134.3 294.60,128.0 294.95,129.5 295.30,124.0 295.65,125.0 296.00,120.8 296.35,121.5 296.70,117.0 297.05,117.7 297.40,112.0 297.75,114.3 298.10,110.2 298.45,114.1 298.80,110.9 299.15,113.6 299.50,111.2 299.85,112.0 300.20,110.1 300.55,112.6 300.90,110.7 301.25,115.0 301.60,109.7 301.95,116.2 302.30,110.5 302.65,114.2 303.00,111.1 303.35,112.1 303.70,111.1 304.05,113.3 304.40,111.0 304.75,114.5 305.10,110.5 305.45,113.6 305.80,110.1 306.15,113.6 306.50,111.1 306.85,112.6 307.20,110.5 307.55,112.8 307.90,111.0 308.25,113.2 308.60,109.9 308.95,114.6 309.30,110.9 309.65,112.5 310.00,111.4 310.35,112.2 310.70,110.8 311.05,112.5 311.40,110.6 312.20,105.1 312.55,103.1 312.90,104.7 313.25,102.8 313.60,105.8 313.95,102.7 314.30,104.3 314.65,102.4 315.00,106.4 315.35,101.8 315.70,106.2 316.05,102.3 316.40,105.6 316.75,103.5 317.10,105.5 317.45,103.0 317.80,104.4 318.15,102.7 318.50,104.2 318.85,102.6 319.20,105.4 319.55,103.3 319.90,104.2 320.25,102.2 320.60,104.0 320.95,102.2 321.30,105.9 321.65,100.9 322.00,104.0 322.35,101.9 322.70,104.5 323.05,102.0 323.40,105.4 323.75,102.3 324.10,104.4 324.45,103.3 324.80,104.7 325.15,103.3 325.50,103.9 325.85,101.7 326.20,106.1 326.55,102.8 326.90,105.7 327.25,102.2 327.60,104.0 327.95,102.7 328.30,105.2 328.65,103.2 329.00,105.2 329.90,108.5 330.25,107.1 330.60,109.5 330.95,107.0 331.30,109.4 331.65,107.0 332.00,108.3 332.35,107.0 332.70,109.4 333.05,107.3 333.40,111.1 333.75,106.6 334.10,109.0 334.45,107.2 334.80,108.4 335.15,107.4 335.50,109.6 335.85,107.5 336.20,109.5 336.55,107.2 336.90,110.0 337.25,106.7 337.60,109.5 337.95,106.9 338.30,109.7 338.65,106.7 339.00,109.1 339.35,107.4 339.70,108.3 340.05,106.9 340.40,110.0 340.75,106.6 341.10,109.8 341.45,106.5 341.80,108.3 342.15,106.4 342.50,108.2 342.85,106.8 343.20,109.2 343.55,107.4 343.90,111.9 344.25,107.2 344.60,108.3 344.95,105.2 345.30,110.6 345.65,106.9 346.00,110.3 346.35,106.2 347.20,112.6 347.55,110.2 347.90,113.5 348.25,111.1 348.60,112.4 348.95,111.4 349.30,112.4 349.65,109.2 350.00,112.8 350.35,110.5 350.70,112.2 351.05,110.0 351.40,114.5 351.75,110.7 352.10,114.2 352.45,110.2 352.80,113.4 353.15,111.3 353.50,113.2 353.85,111.3 354.20,113.6 354.55,109.6 354.90,112.2 355.25,111.0 355.60,113.9 355.95,111.1 356.30,113.9 356.65,110.7 357.00,113.6 357.35,110.2 357.70,114.3 358.05,110.0 358.40,116.3 358.75,110.7 359.10,113.2 359.45,110.9 359.80,114.8 360.15,111.2 360.50,113.0 360.85,111.4 361.20,113.8 361.55,109.8 361.90,113.5 362.25,111.3 362.60,113.0 362.95,110.2 363.30,112.4 363.65,110.5 364.00,112.9 365.00,118.5 365.35,114.5 365.70,117.5 366.05,115.3 366.40,117.7 366.75,115.6 367.10,118.1 367.45,114.9 367.80,116.6 368.15,114.9 368.50,116.9 368.85,115.5 369.20,117.5 369.55,115.3 369.90,117.5 370.25,115.6 370.60,118.0 370.95,115.7 371.30,116.3 371.65,115.5 372.00,118.9 372.35,114.4 372.70,117.3 373.05,115.7 373.40,119.3 373.75,114.6 374.10,117.1 374.45,115.4 374.80,116.7 375.15,115.7 375.50,118.2 375.85,115.7 376.20,118.0 376.55,115.3 376.90,118.8 377.25,115.3 377.60,116.6 377.95,115.8 378.30,118.6 378.65,114.5 379.00,116.7 379.35,115.4 379.70,117.7 380.05,114.2 380.40,117.4 380.75,114.9 381.10,116.6 381.45,115.7 381.80,118.2 382.15,115.1 383.10,145.0 383.45,145.1 383.80,147.5 384.15,146.0 384.50,146.9 384.85,146.3 385.20,147.2 385.55,144.8 385.90,146.6 386.25,145.3 386.60,145.7 386.95,143.6 387.30,146.4 387.65,144.7 388.00,146.3 388.35,143.9 388.70,146.7 389.05,144.1 389.40,146.4 389.75,145.0 390.10,146.0 390.45,144.9 390.80,145.8 391.15,144.8 391.50,146.4 391.85,145.3 392.20,146.2 392.55,145.1 392.90,146.6 393.25,144.6 393.60,146.9 393.95,144.9 394.30,146.2 394.65,145.4 395.00,146.9 395.35,144.7 395.70,146.2 396.05,144.8 396.40,146.4 396.75,144.6 397.10,145.9 397.45,145.3 397.80,146.0 398.15,145.0 398.50,146.2 398.85,144.9 399.20,146.3 399.55,145.2 399.90,146.5 400.80,154.0 401.15,153.2 401.50,154.9 401.85,153.2 402.20,155.1 402.55,153.6 402.90,156.0 403.25,153.0 403.60,154.2 403.95,152.9 404.30,154.2 404.65,152.8 405.00,153.9 405.35,153.5 405.70,154.4 406.05,153.4 406.40,154.7 406.75,153.1 407.10,154.2 407.45,153.2 407.80,153.9 408.15,152.7 408.50,154.0 408.85,153.3 409.20,154.9 409.55,153.1 409.90,154.6 410.25,152.8 410.60,155.1 410.95,153.2 411.30,154.1 411.65,152.9 412.00,154.5 412.35,153.0 412.70,155.0 413.05,153.1 413.40,154.1 413.75,153.0 414.10,154.8 414.45,153.4 414.80,154.2 415.15,152.8 415.50,154.3 415.85,153.1 416.20,154.7 416.55,153.0 416.90,153.9 417.25,153.3 418.10,171.1 418.45,170.7 418.80,172.1 419.15,171.4 419.50,172.2 419.85,170.9 420.20,171.4 420.55,170.8 420.90,171.5 421.25,170.4 421.60,171.1 421.95,170.0 422.30,172.1 422.65,170.8 423.00,172.0 423.35,170.6 423.70,171.4 424.05,169.9 424.40,171.9 424.75,170.2 425.10,171.8 425.45,170.8 425.80,171.1 426.15,170.3 426.50,171.7 426.85,170.8 427.20,171.6 427.55,170.4 427.90,171.4 428.25,170.8 428.60,171.4 428.95,170.6 429.30,171.1 429.65,170.3 430.00,171.3 430.35,170.3 430.70,172.0 431.05,170.4 431.40,171.3 431.75,170.6 432.10,171.1 432.45,170.4 432.80,171.8 433.15,170.3 433.50,171.8 433.85,170.1 434.20,172.0 434.55,170.3 435.30,196.5 435.65,195.8 436.00,198.1 436.35,197.0 436.70,198.3 437.05,196.5 437.40,197.7 437.75,195.6 438.10,196.6 438.45,195.2 438.80,196.6 439.15,195.8 439.50,197.2 439.85,195.6 440.20,196.8 440.55,195.8 440.90,199.0 441.25,196.5 441.60,197.1 441.95,196.0 442.30,197.4 442.65,195.6 443.00,196.7 443.35,195.5 443.70,197.1 444.05,195.6 444.40,196.7 444.75,195.9 445.10,197.3 445.45,195.9 445.80,197.3 446.15,195.7 446.50,197.5 446.85,195.8 447.20,197.0 447.55,195.2 447.90,197.0 448.25,195.0 448.60,197.3 448.95,195.5 449.30,197.2 449.65,196.2 450.00,197.0 450.35,195.8 450.70,197.1 451.05,196.2 451.40,197.5 451.75,195.8 452.10,197.7 453.10,206.2 453.45,204.2 453.80,206.2 454.15,205.3 454.50,206.6 454.85,205.0 455.20,206.5 455.55,205.2 455.90,206.7 456.25,204.7 456.60,205.8 456.95,204.9 457.30,206.3 457.65,205.3 458.00,206.4 458.35,204.8 458.70,206.2 459.05,205.2 459.40,205.9 459.75,204.9 460.10,206.0 460.45,205.2 460.80,206.0 461.15,204.7 461.50,206.1 461.85,205.2 462.20,206.2 462.55,205.1 462.90,206.3 463.25,205.2 463.60,206.5 463.95,204.7 464.30,206.3 464.65,205.5 465.00,206.7 465.35,205.0 465.70,206.8 466.05,203.3 466.40,205.9 466.75,205.1 467.10,206.7 467.45,205.0 467.80,206.4 468.15,205.0 468.50,207.1 468.85,205.3 469.20,206.0 469.55,204.6 470.30,223.1 470.65,221.9 471.00,223.7 471.35,222.2 471.70,224.5 472.05,223.3 472.40,223.6 472.75,222.1 473.10,224.1 473.45,222.0 473.80,223.2 474.15,221.7 474.50,223.9 474.85,221.7 475.20,223.3 475.55,222.3 475.90,223.3 476.25,221.2 476.60,223.7 476.95,222.5 477.30,223.3 477.65,221.8 478.00,224.1 478.35,221.8 478.70,224.5 479.05,222.2 479.40,223.7 479.75,222.2 480.10,224.1 480.45,222.6 480.80,223.7 481.15,222.4 481.50,224.1 481.85,222.8 482.20,223.9 482.55,222.7 482.90,223.8 483.25,222.6 483.60,226.2 483.95,222.7 484.30,223.6 484.65,222.6 485.00,223.5 485.35,222.0 485.70,223.3 486.05,221.4 486.40,224.4 486.75,222.8 487.10,224.7 487.45,221.7 488.30,226.7 488.65,225.4 489.00,227.1 489.35,225.1 489.70,227.1 490.05,225.3 490.40,226.5 490.75,225.7 491.10,227.2 491.45,225.1 491.80,226.3 492.15,225.5 492.50,226.8 492.85,225.3 493.20,226.3 493.55,225.5 493.90,226.9 494.25,224.8 494.60,226.7 494.95,225.6 495.30,226.6 495.65,225.5 496.00,226.9 496.35,225.4 496.70,226.3 497.05,225.5 497.40,226.6 497.75,225.6 498.10,226.7 498.45,225.1 498.80,226.3 499.15,225.5 499.50,226.3 499.85,224.9 500.20,227.2 500.55,224.8 500.90,227.4 501.25,225.3 501.60,226.3 501.95,225.7 502.30,226.7 502.65,225.7 503.00,227.8 503.35,225.5 503.70,226.7 504.05,225.3 504.40,226.6 504.75,224.7 505.10,226.2 505.45,224.7 506.30,224.1 506.65,222.3 507.00,223.2 507.35,222.4 507.70,223.8 508.05,222.8 508.40,223.3 508.75,222.6 509.10,223.9 509.45,222.9 509.80,223.7 510.15,221.0 510.50,223.9 510.85,222.6 511.20,223.9 511.55,222.0 511.90,224.1 512.25,221.9 512.60,223.7 512.95,222.8 513.30,223.7 513.65,222.7 514.00,223.8 514.35,222.8 514.70,223.9 515.05,222.7 515.40,223.8 515.75,222.0 516.10,223.2 516.45,222.5 516.80,223.6 517.15,222.4 517.50,224.2 517.85,222.7 518.20,223.8 518.55,221.7 518.90,224.2 519.25,221.7 519.60,223.2 519.95,221.7 520.30,223.6 520.65,221.9 521.00,224.2 521.35,222.4 521.70,223.7 522.05,222.3 522.40,224.4 522.75,222.2 523.10,224.0 523.90,220.2 524.25,218.3 524.60,219.2 524.95,218.5 525.30,219.0 525.65,218.5 526.00,219.2 526.35,218.0 526.70,219.9 527.05,218.5 527.40,219.7 527.75,218.7 528.10,219.3 528.45,218.5 528.80,219.8 529.15,217.7 529.50,219.8 529.85,218.3 530.20,220.1 530.55,217.6 530.90,219.3 531.25,218.7 531.60,220.1 531.95,217.9 532.30,219.7 532.65,218.7 533.00,219.5 533.35,218.4 533.70,219.8 534.05,218.1 534.40,219.6 534.75,218.2 535.10,219.7 535.45,218.7 535.80,219.3 536.15,218.3 536.50,220.0 536.85,217.8 537.20,219.3 537.55,218.0 537.90,219.5 538.25,218.5 538.60,219.8 538.95,217.8 539.30,219.5" stroke="#FA500F" stroke-width="0.55"/><path d="M83.00 94.5V200M84.90 144.5L84.60 163.9M100.40 128V213M102.30 171.2L102.00 185.8M118.00 151.7V234.6M119.90 196.3L119.60 209.7M135.50 199V210M170.80 198V205M188.30 199V209M205.80 192V208M223.80 183V200M241.00 178.4V237.3M258.60 177V217.2M276.50 138.8V210M293.50 168V186M311.50 97.1V112M329.20 101V113M346.50 107V118M364.30 110V122.3M382.40 95.3V195.3M384.30 145.7L384.00 163.1M400.10 138V160M417.40 137.6V201M434.60 150V233M452.40 191.6V211M469.60 192V252M487.60 220V230M505.60 218V228M523.20 215V224M298.2 107.2V112M313 101V105" stroke="#CD6946" stroke-width="0.8"/></g><rect x="38.0" y="9.0" width="501.5" height="297.0" fill="none" stroke="#b4b4b4" stroke-width="1"/><path d="M99.59 306.0v-5M99.59 9.0v5M187.57 306.0v-5M187.57 9.0v5M275.55 306.0v-5M275.55 9.0v5M363.54 306.0v-5M363.54 9.0v5M451.52 306.0v-5M451.52 9.0v5M38.0 256.50h5M539.5 256.50h-5M38.0 207.00h5M539.5 207.00h-5M38.0 157.50h5M539.5 157.50h-5M38.0 108.00h5M539.5 108.00h-5M38.0 58.50h5M539.5 58.50h-5" stroke="#7a7a7a" stroke-width="0.8" fill="none"/><text x="99.59" y="319.1" stroke="#222" stroke-width="0.12" font-size="11" text-anchor="middle" fill="#262626">5</text><text x="187.57" y="319.1" stroke="#222" stroke-width="0.12" font-size="11" text-anchor="middle" fill="#262626">10</text><text x="275.55" y="319.1" stroke="#222" stroke-width="0.12" font-size="11" text-anchor="middle" fill="#262626">15</text><text x="363.54" y="319.1" stroke="#222" stroke-width="0.12" font-size="11" text-anchor="middle" fill="#262626">20</text><text x="451.52" y="319.1" stroke="#222" stroke-width="0.12" font-size="11" text-anchor="middle" fill="#262626">25</text><text x="539.50" y="319.1" stroke="#222" stroke-width="0.12" font-size="11" text-anchor="middle" fill="#262626">30</text><text x="34.8" y="309.70" stroke="#222" stroke-width="0.12" font-size="11" text-anchor="end" fill="#262626">49</text><text x="34.8" y="260.20" stroke="#222" stroke-width="0.12" font-size="11" text-anchor="end" fill="#262626">49.5</text><text x="34.8" y="210.70" stroke="#222" stroke-width="0.12" font-size="11" text-anchor="end" fill="#262626">50</text><text x="34.8" y="161.20" stroke="#222" stroke-width="0.12" font-size="11" text-anchor="end" fill="#262626">50.5</text><text x="34.8" y="111.70" stroke="#222" stroke-width="0.12" font-size="11" text-anchor="end" fill="#262626">51</text><text x="34.8" y="62.20" stroke="#222" stroke-width="0.12" font-size="11" text-anchor="end" fill="#262626">51.5</text><text x="34.8" y="12.70" stroke="#222" stroke-width="0.12" font-size="11" text-anchor="end" fill="#262626">52</text><text x="289" y="333.2" stroke="#222" stroke-width="0.12" font-size="12" text-anchor="middle" fill="#262626">Time (s)</text><text transform="translate(12.8 157) rotate(-90)" stroke="#222" stroke-width="0.12" font-size="11.8" text-anchor="middle" fill="#262626">Frequency (Hz)</text><text x="106" y="102" stroke="#1a1a1a" stroke-width="0.22" font-size="10.8" fill="#262626">δf = 0.2 Hz</text><text x="351" y="95.5" stroke="#1a1a1a" stroke-width="0.22" font-size="10.8" fill="#262626">max. δf = 0.4 Hz</text><line x1="106.3" y1="104.4" x2="78.77" y2="124.23" stroke="#333" stroke-width="0.6"/><polygon points="75.2,126.8 77.78,122.85 79.76,125.61" fill="#111"/><line x1="350.9" y1="98.2" x2="323.65" y2="118.10" stroke="#333" stroke-width="0.6"/><polygon points="320.1,120.7 322.65,116.73 324.66,119.48" fill="#111"/><rect x="446.5" y="19.5" width="77.5" height="26" fill="#fff" stroke="#a8a8a8" stroke-width="0.8"/><line x1="448" y1="26.2" x2="460.7" y2="26.2" stroke="#3AAFD0" stroke-width="0.7"/><line x1="448" y1="39" x2="460.7" y2="39" stroke="#E6B896" stroke-width="0.9"/><text x="462.2" y="30" stroke="#1a1a1a" stroke-width="0.22" font-size="10.8" fill="#262626">with droop</text><text x="462.2" y="42.7" stroke="#1a1a1a" stroke-width="0.22" font-size="10.8" fill="#262626">without droop</text></svg></body></html>
